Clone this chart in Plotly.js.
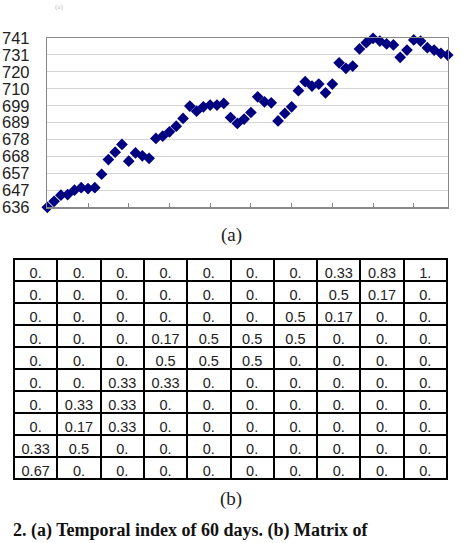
<!DOCTYPE html>
<html>
<head>
<meta charset="utf-8">
<script src="https://cdn.plot.ly/plotly-3.0.1.min.js"></script>
<style>html,body{margin:0;padding:0;background:#fff;}#chart{width:474px;height:543px;}</style>
</head>
<body>
<div id="chart"></div>
<script>
// Series: technological index over 60 days
const days = Array.from({length: 60}, (_, i) => i);
const indexValues = [
  636.0, 639.7, 643.5, 643.9, 646.6, 648.2, 647.6, 648.2, 656.5, 665.6,
  670.2, 675.0, 664.6, 669.7, 667.9, 666.4, 678.7, 680.1, 682.8, 686.3,
  691.1, 698.8, 695.6, 698.3, 699.4, 699.4, 700.4, 691.7, 688.0, 690.7,
  694.8, 704.5, 701.4, 700.8, 689.6, 694.2, 698.3, 708.3, 713.9, 711.2,
  712.4, 707.0, 712.4, 725.6, 722.2, 723.6, 734.2, 738.1, 740.8, 739.1,
  737.3, 736.7, 729.0, 733.5, 739.8, 739.1, 735.0, 733.5, 731.5, 730.4
];
const yTickVals = [636, 646.5, 657, 667.5, 678, 688.5, 699, 709.5, 720, 730.5, 741];
const yTickText = ['636', '647', '657', '668', '678', '689', '699', '710', '720', '731', '741'];
const xTickVals = [6, 12, 18, 24, 30, 36, 42, 48, 54];

// Matrix (b), row by row
const row1  = ['0.', '0.', '0.', '0.', '0.', '0.', '0.', '0.33', '0.83', '1.'];
const row2  = ['0.', '0.', '0.', '0.', '0.', '0.', '0.', '0.5', '0.17', '0.'];
const row3  = ['0.', '0.', '0.', '0.', '0.', '0.', '0.5', '0.17', '0.', '0.'];
const row4  = ['0.', '0.', '0.', '0.17', '0.5', '0.5', '0.5', '0.', '0.', '0.'];
const row5  = ['0.', '0.', '0.', '0.5', '0.5', '0.5', '0.', '0.', '0.', '0.'];
const row6  = ['0.', '0.', '0.33', '0.33', '0.', '0.', '0.', '0.', '0.', '0.'];
const row7  = ['0.', '0.33', '0.33', '0.', '0.', '0.', '0.', '0.', '0.', '0.'];
const row8  = ['0.', '0.17', '0.33', '0.', '0.', '0.', '0.', '0.', '0.', '0.'];
const row9  = ['0.33', '0.5', '0.', '0.', '0.', '0.', '0.', '0.', '0.', '0.'];
const row10 = ['0.67', '0.', '0.', '0.', '0.', '0.', '0.', '0.', '0.', '0.'];

const bodyRows = [row2, row3, row4, row5, row6, row7, row8, row9, row10];
const cellColumns = row1.map((_, c) => bodyRows.map(r => r[c]));

const W = 474, H = 543;
const px = x => x / W;
const py = y => 1 - y / H;

const scatter = {
  type: 'scatter', mode: 'markers',
  x: days, y: indexValues,
  marker: {symbol: 'diamond', size: 9, color: '#000080'},
  cliponaxis: false, hoverinfo: 'skip', showlegend: false
};

const tableFont = {family: 'Arial, Liberation Sans, sans-serif', size: 14.5, color: '#222'};
const table = {
  type: 'table',
  domain: {x: [px(14), px(447)], y: [py(481), py(259)]},
  columnwidth: row1.map(() => 1),
  header: {
    values: row1, height: 22, align: 'center',
    line: {color: '#000', width: 2}, fill: {color: '#fff'}, font: tableFont
  },
  cells: {
    values: cellColumns, height: 22, align: 'center',
    line: {color: '#000', width: 2}, fill: {color: '#fff'}, font: tableFont
  }
};

const layout = {
  width: W, height: H,
  margin: {l: 0, r: 0, t: 0, b: 0},
  paper_bgcolor: '#fff', plot_bgcolor: '#fff',
  showlegend: false,
  xaxis: {
    domain: [px(47.3), px(447.7)],
    range: [0, 59],
    tickvals: xTickVals, ticktext: xTickVals.map(() => ''),
    ticks: 'inside', ticklen: 4, tickcolor: '#888', tickwidth: 1,
    showgrid: false, zeroline: false,
    showline: true, linecolor: '#888', linewidth: 1.5, mirror: true
  },
  yaxis: {
    domain: [py(207.3), py(38)],
    range: [636, 741],
    tickvals: yTickVals, ticktext: yTickText,
    ticks: '', ticklabelstandoff: 13,
    tickfont: {family: 'Arial, Liberation Sans, sans-serif', size: 16.5, color: '#222'},
    showgrid: true, gridcolor: '#d4d4d4', gridwidth: 1,
    zeroline: false,
    showline: true, linecolor: '#888', linewidth: 1.5, mirror: true
  },
  annotations: [
    {text: '(a)', xref: 'paper', yref: 'paper', x: px(59), y: py(1), xanchor: 'center', yanchor: 'top',
     showarrow: false, font: {family: 'Liberation Serif, Times New Roman, serif', size: 7, color: '#bbb'}},
    {text: '(a)', xref: 'paper', yref: 'paper', x: px(231), y: py(235), xanchor: 'center', yanchor: 'middle',
     showarrow: false, font: {family: 'Liberation Serif, Times New Roman, serif', size: 19, color: '#222'}},
    {text: '(b)', xref: 'paper', yref: 'paper', x: px(231), y: py(499), xanchor: 'center', yanchor: 'middle',
     showarrow: false, font: {family: 'Liberation Serif, Times New Roman, serif', size: 19, color: '#222'}},
    {text: '<b>2. (a) Temporal index of 60 days. (b) Matrix of</b>', xref: 'paper', yref: 'paper',
     x: px(11), y: py(542.5), xanchor: 'left', yanchor: 'bottom',
     showarrow: false, font: {family: 'Liberation Serif, Times New Roman, serif', size: 18, color: '#111'}}
  ]
};

Plotly.newPlot('chart', [scatter, table], layout, {staticPlot: true, displayModeBar: false});
</script>
</body>
</html>
